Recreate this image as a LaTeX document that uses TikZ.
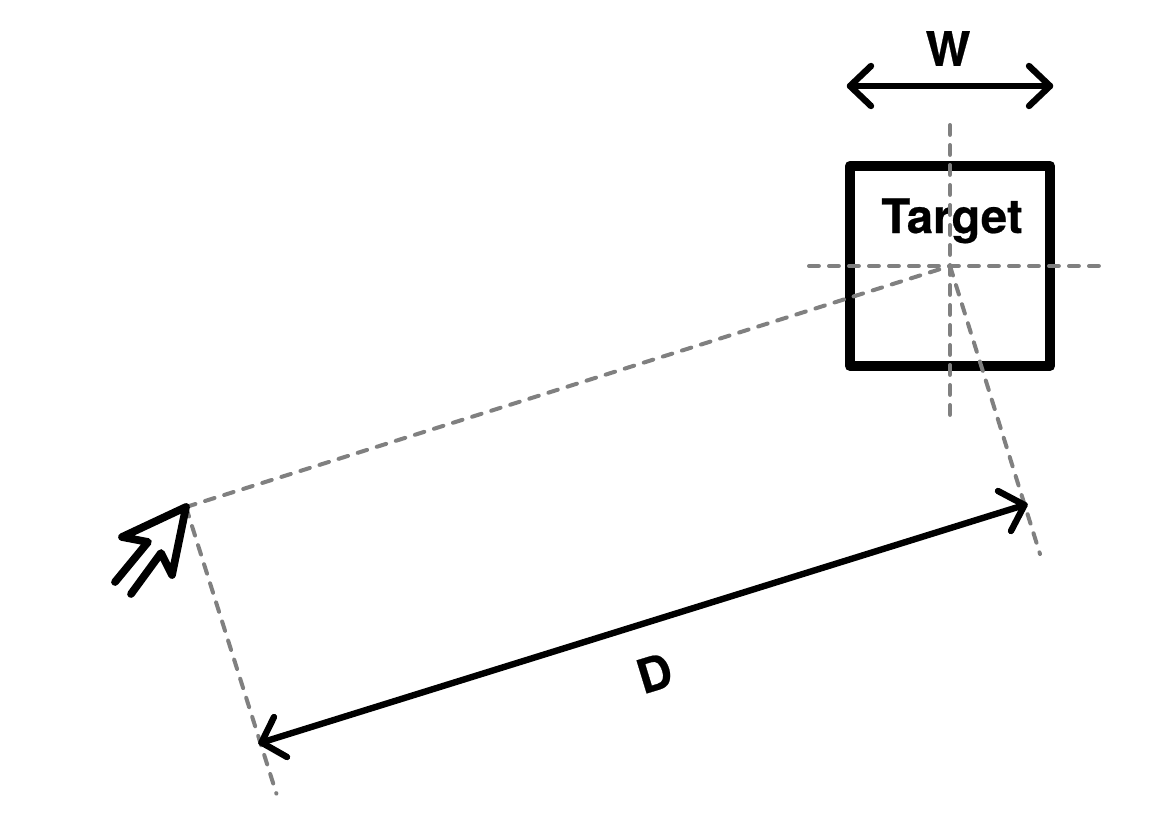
\documentclass[tikz,border=0pt]{standalone}
\usepackage{fontspec}
\setmainfont[BoldFeatures={FakeBold=0.5}]{TeX Gyre Heros}
\begin{document}
\begin{tikzpicture}[x=0.75pt,y=-0.75pt,
  guide/.style={draw=black!50,line width=3pt,dash pattern=on 7.4pt off 7.6pt,line cap=round},
  heavy/.style={draw=black,line width=4.8pt,line cap=round,line join=round},
  cursorline/.style={draw=black,line width=5.8pt,line cap=round,line join=round},
  boxline/.style={draw=black,line width=7.8pt,line join=round},
  lbl/.style={font=\fontsize{35.5pt}{40pt}\selectfont\bfseries,inner sep=0pt,text=black}]
\useasboundingbox (0,0) rectangle (1170,832);
\coordinate (center) at (950,266);
\coordinate (vtop) at (950,125);
\coordinate (vbot) at (950,417);
\coordinate (hleft) at (809,266);
\coordinate (hright) at (1102,266);
\coordinate (tip) at (186,507);
\coordinate (footL) at (276.4,793.6);
\coordinate (footR) at (1040,554);
\coordinate (wL) at (850,86);
\coordinate (wR) at (1050,86);
\coordinate (dL) at (261.5,742.5);
\coordinate (dR) at (1024.5,505);
% target box
\node[boxline,minimum size=150pt,inner sep=0pt,rectangle] (box) at (950,266) {};
\node[lbl,anchor=base] (target) at (952,233) {Target};
\node[lbl] (wlabel) at (948,48.5) {W};
\node[lbl,rotate=17] (dlabel) at (654.5,673) {D};
% guides
\draw[guide] (vtop) -- (vbot);
\draw[guide] (hleft) -- (hright);
\draw[guide] (tip) -- (center);
\draw[guide] (center) -- (footR);
\draw[guide] (tip) -- (footL);
% W arrow
\draw[heavy] (wL) -- (wR);
\draw[heavy] (871,66) -- (wL) -- (871,106);
\draw[heavy] (1029,66) -- (wR) -- (1029,106);
% D arrow
\draw[heavy] (dL) -- (dR);
\draw[heavy] (274,717) -- (dL) -- (287,757);
\draw[heavy] (998,491) -- (dR) -- (1011,531);
% cursor
\draw[cursorline] (115,582) -- (148,542) -- (122,537) -- (tip) -- (172,575) -- (161,553) -- (131,594);
\end{tikzpicture}
\end{document}
